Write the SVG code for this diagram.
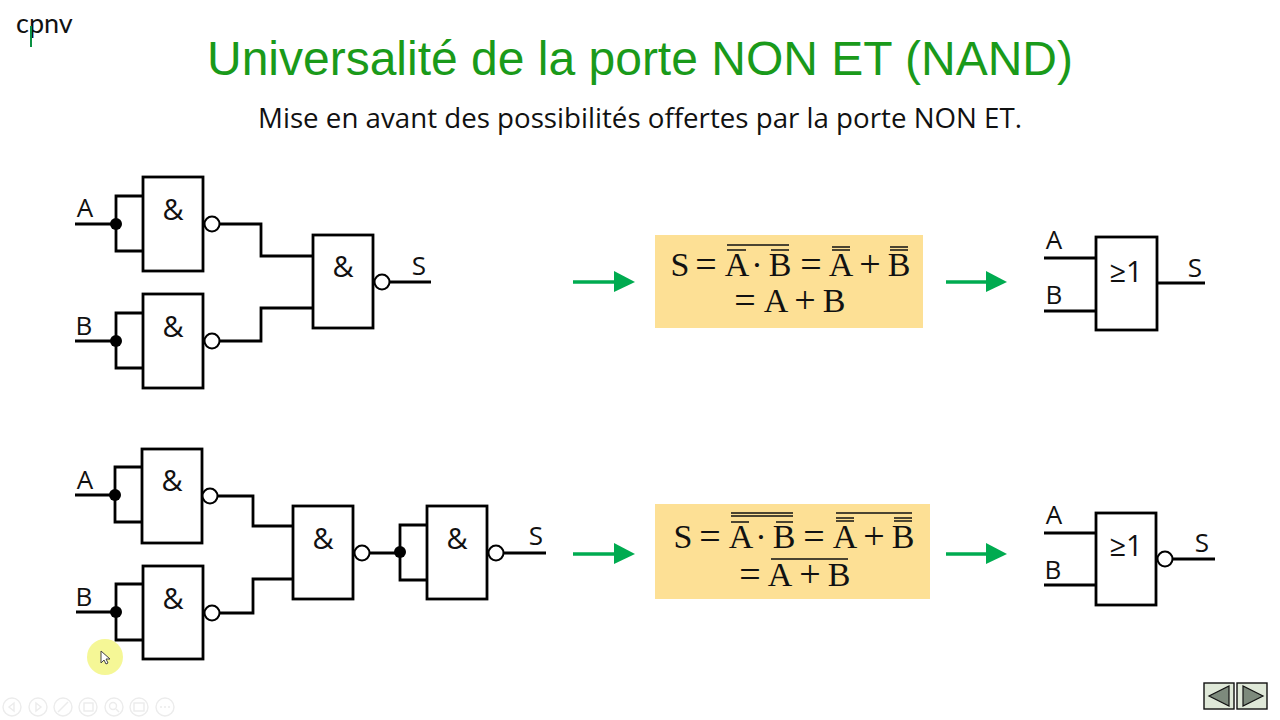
<svg xmlns="http://www.w3.org/2000/svg" width="1280" height="720" viewBox="0 0 1280 720">
<style>
.g{fill:#fff;stroke:#000;stroke-width:2.8}
.w{fill:none;stroke:#000;stroke-width:2.8}
.b{fill:#fff;stroke:#000;stroke-width:2}
.d{fill:#000}
.t{font-family:"Open Sans","Liberation Sans",sans-serif;font-size:26px;fill:#111}
.s{font-family:"Open Sans","Liberation Sans",sans-serif;font-size:29px;fill:#111}
.m{text-anchor:middle}
.f{font-family:"Liberation Serif","DejaVu Serif",serif;font-size:34px;fill:#111;text-anchor:middle}
.q{font-family:"Liberation Serif","DejaVu Serif",serif;font-size:38px;fill:#111;text-anchor:middle}
.o{stroke:#111;stroke-width:1.5;fill:none}
.y{fill:#fde095}
.a{fill:none;stroke:#00ab50;stroke-width:3.4}
.h{fill:#00ab50}
.i{fill:none;stroke:#ececec;stroke-width:1.4}
.n{fill:#dfe8d8;stroke:#111;stroke-width:1.4}
.p{fill:#7d8a7c;stroke:#111;stroke-width:1.2}
</style>
<rect width="1280" height="720" fill="#fff"/>

<g id="logo">
<text x="16" y="33" font-family="Lato,'Liberation Sans',sans-serif" font-size="27" fill="#111">cpnv</text>
<path d="M31 26V47" fill="none" stroke="#0a9142" stroke-width="2"/>
</g>
<text id="title" x="640" y="75" text-anchor="middle" font-family="'Liberation Sans',Arial,sans-serif" font-size="48" fill="#1a9a1a">Universalité de la porte NON ET (NAND)</text>
<text id="subtitle" x="640" y="128" text-anchor="middle" font-family="'Open Sans','Liberation Sans',sans-serif" font-size="27.7" fill="#111">Mise en avant des possibilités offertes par la porte NON ET.</text>

<g id="connectors">
<path class="w" d="M75 224H116M143 196H116V251H143"/>
<path class="w" d="M75 341H116M143 313H116V368H143"/>
<path class="w" d="M219 224H261V256H313"/>
<path class="w" d="M219 341H261V308H313"/>
<path class="w" d="M389 282H431"/>
<path class="w" d="M75 495H115M142 467H115V522H142"/>
<path class="w" d="M76 612H116M143 584H116V640H143"/>
<path class="w" d="M217 496H253V526H293"/>
<path class="w" d="M219 613H253V579H293"/>
<path class="w" d="M369 553H400M427 525H400V580H427"/>
<path class="w" d="M503 553H546"/>
<path class="w" d="M1044 258H1096M1044 311H1096M1157 283H1205"/>
<path class="w" d="M1044 533H1096M1044 585H1096M1172 559H1215"/>
<path class="a" d="M573 282H618"/><path class="h" d="M614 271L635 282L614 292Z"/>
<path class="a" d="M946 282H990"/><path class="h" d="M986 271L1007 282L986 292Z"/>
<path class="a" d="M573 554H618"/><path class="h" d="M614 543L635 554L614 564Z"/>
<path class="a" d="M946 554H990"/><path class="h" d="M986 543L1007 554L986 564Z"/>
<circle class="d" cx="116" cy="224" r="6"/>
<circle class="d" cx="116" cy="341" r="6"/>
<circle class="d" cx="115" cy="495" r="6"/>
<circle class="d" cx="116" cy="612" r="6"/>
<circle class="d" cx="400" cy="552" r="6"/>
</g>

<g id="labels">
<text class="t m" x="85" y="217">A</text>
<text class="t m" x="84" y="335">B</text>
<text class="t m" x="419" y="275">S</text>
<text class="t m" x="85" y="489">A</text>
<text class="t m" x="84" y="606">B</text>
<text class="t m" x="536" y="545">S</text>
<text class="t m" x="1054" y="249">A</text>
<text class="t m" x="1054" y="304">B</text>
<text class="t m" x="1195" y="277">S</text>
<text class="t m" x="1054" y="524">A</text>
<text class="t m" x="1053" y="579">B</text>
<text class="t m" x="1202" y="552">S</text>
</g>

<g id="gate1"><rect class="g" x="143" y="177" width="60" height="94"/><text class="s m" x="173" y="220">&amp;</text><circle class="b" cx="212" cy="224" r="7.5"/></g>
<g id="gate2"><rect class="g" x="143" y="294" width="60" height="94"/><text class="s m" x="173" y="337">&amp;</text><circle class="b" cx="212" cy="341" r="7.5"/></g>
<g id="gate3"><rect class="g" x="313" y="235" width="60" height="93"/><text class="s m" x="343" y="277">&amp;</text><circle class="b" cx="382" cy="282" r="7.5"/></g>
<g id="gate4"><rect class="g" x="142" y="449" width="60" height="94"/><text class="s m" x="172" y="491">&amp;</text><circle class="b" cx="210" cy="496" r="7.5"/></g>
<g id="gate5"><rect class="g" x="143" y="566" width="60" height="93"/><text class="s m" x="173" y="609">&amp;</text><circle class="b" cx="212" cy="613" r="7.5"/></g>
<g id="gate6"><rect class="g" x="293" y="506" width="60" height="93"/><text class="s m" x="323" y="549">&amp;</text><circle class="b" cx="362" cy="553" r="7.5"/></g>
<g id="gate7"><rect class="g" x="427" y="506" width="60" height="93"/><text class="s m" x="457" y="549">&amp;</text><circle class="b" cx="496" cy="553" r="7.5"/></g>
<g id="gate8"><rect class="g" x="1096" y="237" width="61" height="93"/><text class="s m" x="1126" y="282">≥1</text></g>
<g id="gate9"><rect class="g" x="1096" y="513" width="60" height="92"/><text class="s m" x="1126" y="556">≥1</text><circle class="b" cx="1165" cy="559" r="7.5"/></g>

<g id="formula1">
<rect class="y" x="655" y="235" width="268" height="93"/>
<text class="f" x="680" y="276">S</text><text class="q" x="706" y="277">=</text><text class="f" x="737" y="276">A</text><text class="f" x="757" y="276">·</text><text class="f" x="780" y="276">B</text><text class="q" x="811" y="277">=</text><text class="f" x="841" y="276">A</text><text class="q" x="870" y="277">+</text><text class="f" x="899" y="276">B</text>
<text class="q" x="745" y="313">=</text><text class="f" x="776" y="312">A</text><text class="q" x="805" y="313">+</text><text class="f" x="834" y="312">B</text>
<path class="o" d="M727 245H789M727 250H746M771 250H789M832 247H850M832 250H850M890 247H908M890 250H908"/>
</g>
<g id="formula2">
<rect class="y" x="655" y="504" width="275" height="95"/>
<text class="f" x="683" y="548">S</text><text class="q" x="710" y="549">=</text><text class="f" x="741" y="548">A</text><text class="f" x="761" y="548">·</text><text class="f" x="784" y="548">B</text><text class="q" x="814" y="549">=</text><text class="f" x="845" y="548">A</text><text class="q" x="874" y="549">+</text><text class="f" x="903" y="548">B</text>
<text class="q" x="750" y="587">=</text><text class="f" x="780" y="586">A</text><text class="q" x="810" y="587">+</text><text class="f" x="839" y="586">B</text>
<path class="o" d="M731 513H793M731 516H793M731 522H749M776 522H793M836 513H912M836 518H854M836 521H854M894 518H912M894 521H912M771 559H848"/>
</g>

<g id="cursor">
<circle cx="105" cy="657" r="18" fill="#f5f796"/>
<path d="M101 651V663L104 660L106 664L108 663L106 659L110 659Z" fill="#fff" stroke="#444" stroke-width="1"/>
</g>
<g id="toolbar">
<circle class="i" cx="12" cy="707" r="9"/><path class="i" d="M14 703L9 707L14 711Z"/>
<circle class="i" cx="38" cy="707" r="9"/><path class="i" d="M36 703L41 707L36 711Z"/>
<circle class="i" cx="63" cy="707" r="9"/><path class="i" d="M58 712L68 702"/>
<circle class="i" cx="88" cy="707" r="9"/><rect class="i" x="84" y="703" width="9" height="8"/>
<circle class="i" cx="114" cy="707" r="9"/><circle class="i" cx="113" cy="706" r="3.5"/><path class="i" d="M116 709L119 712"/>
<circle class="i" cx="139" cy="707" r="9"/><rect class="i" x="134" y="703" width="10" height="8"/>
<circle class="i" cx="165" cy="707" r="9"/><path class="i" d="M160 707H162M164 707H166M168 707H170"/>
</g>
<g id="nav">
<rect class="n" x="1204" y="683" width="30" height="26"/><path class="p" d="M1229 686V706L1209 696Z"/>
<rect class="n" x="1237" y="683" width="30" height="26"/><path class="p" d="M1243 686V706L1263 696Z"/>
</g>
</svg>
